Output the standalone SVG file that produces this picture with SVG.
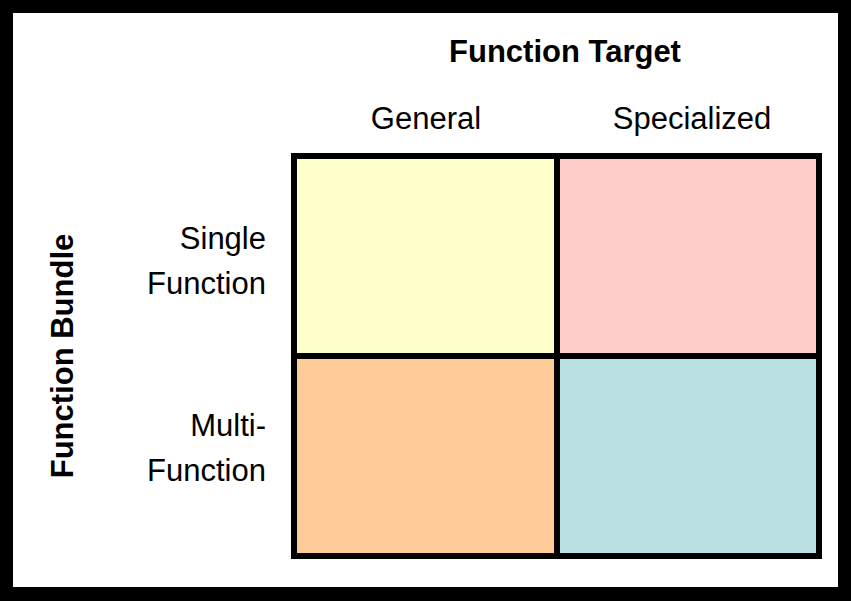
<svg xmlns="http://www.w3.org/2000/svg" width="851" height="601" viewBox="0 0 851 601">
<style>
text{font-family:"Liberation Sans",Arial,sans-serif;font-size:31px;fill:#000}
.b{font-weight:bold}
.cell{stroke:#000;stroke-width:6}
</style>
<rect x="0" y="0" width="851" height="601" fill="#000"/>
<rect x="13" y="13" width="825" height="574" fill="#fff"/>
<g id="header">
<text class="b" x="565" y="62" text-anchor="middle">Function Target</text>
<text x="426" y="129" text-anchor="middle">General</text>
<text x="692" y="129" text-anchor="middle">Specialized</text>
<text class="b" transform="translate(73,356) rotate(-90)" text-anchor="middle">Function Bundle</text>
<text x="266" y="249" text-anchor="end">Single</text>
<text x="266" y="294" text-anchor="end">Function</text>
<text x="266" y="436" text-anchor="end">Multi-</text>
<text x="266" y="481" text-anchor="end">Function</text>
</g>
<g id="cell-general-single"><rect class="cell" x="294" y="156" width="263" height="200" fill="#FFFFCC"/></g>
<g id="cell-specialized-single"><rect class="cell" x="557" y="156" width="262" height="200" fill="#FFCCCC"/></g>
<g id="cell-general-multi"><rect class="cell" x="294" y="356" width="263" height="200" fill="#FFCC99"/></g>
<g id="cell-specialized-multi"><rect class="cell" x="557" y="356" width="262" height="200" fill="#BBE0E3"/></g>
<g id="connectors"/>
</svg>
